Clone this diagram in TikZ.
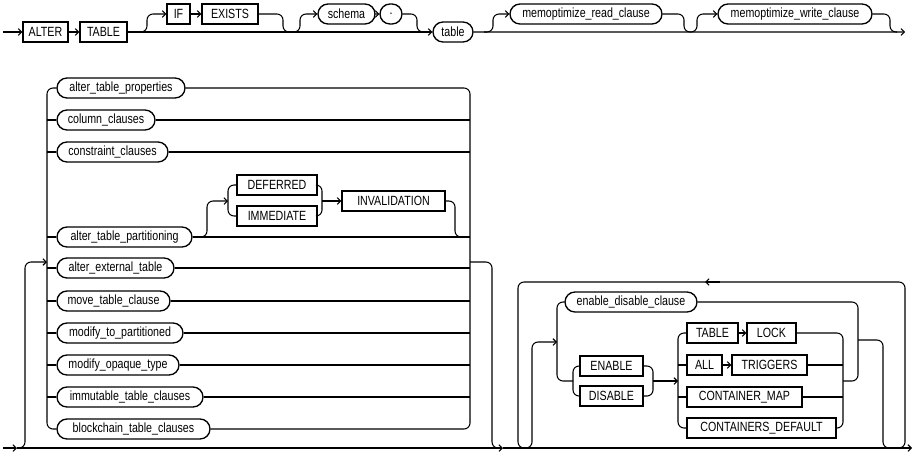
\documentclass[tikz,border=0pt]{standalone}
\usepackage{fontspec}
\setmainfont{Liberation Sans}[FakeStretch=0.8]
\usetikzlibrary{arrows.meta,shapes.misc,positioning}

\begin{document}
\begin{tikzpicture}[x=0.75pt,y=-0.75pt,
    box/.style={
       draw=black,
       line width=1pt,
       inner sep=0pt,
       minimum height=15pt,
       font=\fontsize{10}{12}\selectfont},
    pill/.style={box,rounded rectangle},
    rr/.style={line width=0.8pt,rounded corners=4.5pt},
    arr/.style={rr,-{Straight Barb[length=2.5pt,width=5pt]}}
    ]
    \useasboundingbox (0,0) rectangle (916,454);

  \foreach \n/\l/\r/\y/\s/\t in {% name/left/right/y/style/text
    alter/23/68/32/box/ALTER,
    tablekw/80/127/32/box/TABLE,
    ifkw/167/190/14/box/IF,
    exists/202/258/14/box/EXISTS,
    schema/318/375/14/pill/schema,
    dot/380/402/14/pill/.,
    tbl/433/473/32/pill/table,
    mread/510/662/14/pill/memoptimize\_read\_clause,
    mwrite/718/872/14/pill/memoptimize\_write\_clause,
    atp/57/185/88/pill/alter\_table\_properties,
    cc/57/155/120/pill/column\_clauses,
    conc/57/168/152/pill/constraint\_clauses,
    atpart/57/192/237/pill/alter\_table\_partitioning,
    deferred/237/317/185/box/DEFERRED,
    immediate/237/317/216/box/IMMEDIATE,
    inval/342/445/201/box/INVALIDATION,
    aet/57/174/268/pill/alter\_external\_table,
    mtc/57/170/301/pill/move\_table\_clause,
    mtp/57/183/333/pill/modify\_to\_partitioned,
    mot/57/179/365/pill/modify\_opaque\_type,
    itc/57/203/397/pill/immutable\_table\_clauses,
    btc/57/210/429/pill/blockchain\_table\_clauses,
    edc/565/697/302/pill/enable\_disable\_clause,
    enable/580/643/366/box/ENABLE,
    disable/580/643/396/box/DISABLE,
    tablek2/687/738/333/box/TABLE,
    lock/747/796/333/box/LOCK,
    all/687/722/365/box/ALL,
    triggers/732/807/365/box/TRIGGERS,
    cmap/687/802/397/box/CONTAINER\_MAP,
    cdef/687/836/428/box/CONTAINERS\_DEFAULT}
  {
    \pgfmathsetmacro\w{(\r-\l)*0.75}
    \node[\s,minimum width=\w pt] (\n) at ({(\l+\r)/2},\y) {\t};
  }

  % first line
  \draw[arr] (3,32) -- (alter);
  \draw[arr] (alter) -- (tablekw);
  \draw[arr] (tablekw) -- (tbl);
  \draw[arr] (140,32) -| (147,14) -- (ifkw);
  \draw[arr] (ifkw) -- (exists);
  \draw[rr] (exists) -| (283,32) -- (290,32);
  \draw[arr] (294,32) -| (300,14) -- (schema);
  \draw[arr] (schema) -- (dot);
  \draw[rr] (dot) -| (417,32) -- (424,32);
  \draw[arr] (tbl) -- (905,32);
  \draw[arr] (484,32) -| (493,14) -- (mread);
  \draw[rr] (mread) -| (684,32) -- (690,32);
  \draw[arr] (690,32) -| (697,14) -- (mwrite);
  \draw[rr] (mwrite) -| (890,32) -- (897,32);

  % second line, left choice
  \draw[arr] (3,448) -- (17,448);
  \draw[arr] (17,448) -- (503,448);
  \draw[arr] (503,448) -- (912,448);
  \draw[arr] (17,448) -| (25,262) -- (47,262);
  \draw[rr] (atp.west) -- (47,88) -- (47,429) -- (btc.west);
  \draw[rr] (atp.east) -- (470,88) -- (470,429) -- (btc.east);
  \foreach \n in {cc,conc,atpart,aet,mtc,mtp,mot,itc}
    \draw[rr] (47,0 |- \n.west) -- (\n.west) (\n.east) -- (470,0 |- \n.east);
  \draw[rr] (470,262) -| (492,448) -- (500,448);
  \draw[arr] (196,237) -| (207,201) -- (228,201);
  \draw[rr] (deferred.west) -- (228,185) -- (228,216) -- (immediate.west);
  \draw[rr] (deferred.east) -- (322,185) -- (322,216) -- (immediate.east);
  \draw[arr] (322,201) -- (inval);
  \draw[rr] (inval) -| (455,237) -- (462,237);

  % second line, right loop
  \draw[rr] (895,448) -- (905,448) -- (905,282) -- (518,282) -- (518,448) -- (528,448);
  \draw[arr] (720,282) -- (705,282);
  \draw[arr] (524,448) -| (532,342) -- (557,342);
  \draw[rr] (edc.west) -- (557,302) -- (557,381) -- (573,381);
  \draw[rr] (enable.west) -- (573,366) -- (573,396) -- (disable.west);
  \draw[rr] (enable.east) -- (653,366) -- (653,396) -- (disable.east);
  \draw[arr] (653,381) -- (678,381);
  \draw[rr] (tablek2.west) -- (678,333) -- (678,428) -- (cdef.west);
  \draw[rr] (678,365) -- (all.west) (678,397) -- (cmap.west);
  \draw[arr] (tablek2) -- (lock);
  \draw[arr] (all) -- (triggers);
  \draw[rr] (lock.east) -- (843,333) -- (843,428) -- (cdef.east);
  \draw[rr] (triggers.east) -- (843,365) (cmap.east) -- (843,397);
  \draw[rr] (edc.east) -- (858,302) -- (858,381) -- (843,381);
  \draw[rr] (858,340) -- (883,340) -- (883,448) -- (893,448);
\end{tikzpicture}
\end{document}
